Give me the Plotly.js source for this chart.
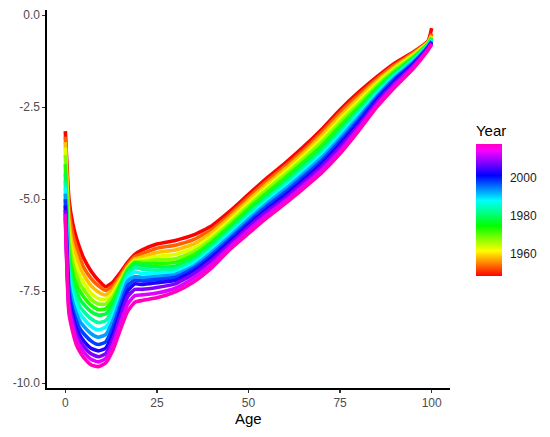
<!DOCTYPE html>
<html><head><meta charset="utf-8">
<script src="https://cdn.plot.ly/plotly-3.0.1.min.js"></script>
<style>html,body{margin:0;padding:0;background:#fff}#chart{width:550px;height:437px}</style>
</head><body><div id="chart"></div>
<script>
const years = [1948,1953,1958,1963,1968,1973,1978,1983,1988,1993,1998,2003,2008,2013,2018];
const ages = [0,1,2,3,4,5,7,9,11,13,15,17,19,21,25,30,35,40,45,50,55,60,65,70,75,80,85,90,95,99,100];

const logm1948 = [-3.15,-5.0,-5.65,-6.05,-6.35,-6.6,-6.95,-7.2,-7.38,-7.25,-7.0,-6.72,-6.5,-6.38,-6.22,-6.12,-5.97,-5.72,-5.32,-4.87,-4.43,-4.02,-3.58,-3.1,-2.57,-2.1,-1.68,-1.3,-1.0,-0.7,-0.35];
const logm1953 = [-3.3,-5.3,-5.95,-6.3,-6.6,-6.85,-7.15,-7.35,-7.48,-7.35,-7.08,-6.78,-6.56,-6.48,-6.33,-6.25,-6.1,-5.82,-5.41,-4.95,-4.51,-4.1,-3.67,-3.18,-2.65,-2.18,-1.74,-1.35,-1.03,-0.72,-0.5];
const logm1958 = [-3.45,-5.6,-6.25,-6.55,-6.85,-7.05,-7.35,-7.52,-7.6,-7.45,-7.15,-6.84,-6.62,-6.57,-6.45,-6.38,-6.22,-5.91,-5.49,-5.03,-4.59,-4.18,-3.75,-3.27,-2.74,-2.26,-1.8,-1.4,-1.06,-0.74,-0.55];
const logm1963 = [-3.6,-5.9,-6.5,-6.8,-7.1,-7.25,-7.55,-7.7,-7.72,-7.55,-7.22,-6.88,-6.67,-6.64,-6.55,-6.5,-6.33,-6.0,-5.57,-5.11,-4.67,-4.26,-3.83,-3.36,-2.83,-2.34,-1.86,-1.44,-1.09,-0.75,-0.58];
const logm1968 = [-3.8,-6.15,-6.75,-7.05,-7.3,-7.45,-7.72,-7.85,-7.85,-7.65,-7.28,-6.9,-6.7,-6.7,-6.65,-6.62,-6.43,-6.08,-5.65,-5.19,-4.75,-4.34,-3.91,-3.45,-2.92,-2.42,-1.92,-1.48,-1.12,-0.77,-0.6];
const logm1973 = [-4.05,-6.4,-7.0,-7.3,-7.5,-7.65,-7.88,-8.0,-7.98,-7.75,-7.33,-6.92,-6.72,-6.75,-6.75,-6.72,-6.52,-6.16,-5.72,-5.26,-4.83,-4.42,-3.99,-3.54,-3.01,-2.5,-1.98,-1.53,-1.15,-0.78,-0.62];
const logm1978 = [-4.3,-6.65,-7.2,-7.5,-7.72,-7.85,-8.05,-8.15,-8.12,-7.87,-7.4,-6.96,-6.77,-6.8,-6.84,-6.82,-6.6,-6.23,-5.79,-5.34,-4.91,-4.5,-4.07,-3.63,-3.1,-2.57,-2.04,-1.57,-1.18,-0.8,-0.64];
const logm1983 = [-4.5,-6.9,-7.4,-7.7,-7.92,-8.05,-8.25,-8.35,-8.3,-8.0,-7.5,-7.03,-6.86,-6.9,-6.93,-6.9,-6.68,-6.3,-5.86,-5.41,-4.98,-4.58,-4.15,-3.71,-3.18,-2.64,-2.1,-1.61,-1.21,-0.82,-0.66];
const logm1988 = [-4.68,-7.1,-7.6,-7.9,-8.12,-8.25,-8.45,-8.55,-8.48,-8.15,-7.62,-7.12,-6.98,-7.02,-7.02,-6.98,-6.75,-6.37,-5.93,-5.48,-5.05,-4.65,-4.23,-3.79,-3.26,-2.71,-2.15,-1.65,-1.24,-0.83,-0.68];
const logm1993 = [-4.85,-7.3,-7.8,-8.1,-8.32,-8.45,-8.65,-8.75,-8.68,-8.3,-7.75,-7.22,-7.1,-7.13,-7.1,-7.05,-6.82,-6.44,-6.0,-5.55,-5.12,-4.73,-4.31,-3.87,-3.34,-2.78,-2.2,-1.69,-1.27,-0.85,-0.7];
const logm1998 = [-5.0,-7.5,-8.0,-8.3,-8.52,-8.65,-8.85,-8.95,-8.88,-8.48,-7.9,-7.35,-7.2,-7.22,-7.18,-7.12,-6.88,-6.51,-6.07,-5.62,-5.19,-4.81,-4.39,-3.95,-3.42,-2.85,-2.25,-1.73,-1.3,-0.87,-0.72];
const logm2003 = [-5.17,-7.7,-8.15,-8.5,-8.7,-8.85,-9.05,-9.12,-9.05,-8.65,-8.05,-7.5,-7.3,-7.32,-7.27,-7.2,-6.95,-6.58,-6.14,-5.69,-5.27,-4.89,-4.47,-4.03,-3.5,-2.93,-2.31,-1.78,-1.33,-0.88,-0.74];
const logm2008 = [-5.3,-7.85,-8.3,-8.65,-8.85,-9.0,-9.2,-9.28,-9.2,-8.8,-8.2,-7.65,-7.45,-7.45,-7.4,-7.3,-7.03,-6.66,-6.21,-5.76,-5.34,-4.97,-4.55,-4.11,-3.59,-3.0,-2.37,-1.83,-1.37,-0.9,-0.76];
const logm2013 = [-5.4,-8.0,-8.45,-8.8,-9.0,-9.15,-9.35,-9.42,-9.33,-8.95,-8.38,-7.85,-7.62,-7.6,-7.55,-7.42,-7.14,-6.76,-6.29,-5.84,-5.43,-5.05,-4.63,-4.2,-3.68,-3.08,-2.44,-1.89,-1.41,-0.93,-0.78];
const logm2018 = [-5.5,-8.1,-8.6,-8.95,-9.15,-9.3,-9.5,-9.55,-9.45,-9.1,-8.55,-8.05,-7.8,-7.75,-7.68,-7.52,-7.25,-6.86,-6.36,-5.93,-5.51,-5.12,-4.71,-4.28,-3.76,-3.15,-2.5,-1.95,-1.45,-0.95,-0.8];

const seriesByYear = [logm1948,logm1953,logm1958,logm1963,logm1968,logm1973,logm1978,logm1983,logm1988,logm1993,logm1998,logm2003,logm2008,logm2013,logm2018];

const xTickVals = [0,25,50,75,100];
const xTickText = ['0','25','50','75','100'];
const yTickVals = [-10,-7.5,-5,-2.5,0];
const yTickText = ['-10.0','-7.5','-5.0','-2.5','0.0'];
const barTickVals = [1960,1980,2000];
const barTickText = ['1960','1980','2000'];
const yearMin = 1948, yearMax = 2018;
const HUE_END = 315;

function rainbowT(t){
  const h = HUE_END * t;
  const sec = Math.floor(h / 60);
  const f = h / 60 - sec;
  let r, g, b;
  switch (Math.min(sec, 5)) {
    case 0: r = 1; g = f; b = 0; break;
    case 1: r = 1 - f; g = 1; b = 0; break;
    case 2: r = 0; g = 1; b = f; break;
    case 3: r = 0; g = 1 - f; b = 1; break;
    case 4: r = f; g = 0; b = 1; break;
    default: r = 1; g = 0; b = 1 - f;
  }
  return 'rgb(' + Math.round(r*255) + ',' + Math.round(g*255) + ',' + Math.round(b*255) + ')';
}
function rainbow(year){ return rainbowT((year - yearMin) / (yearMax - yearMin)); }

const colorscale = [];
for (let k = 0; k <= 21; k++) colorscale.push([k/21, rainbowT(k/21)]);
const FONT = 'Liberation Sans, Arial, sans-serif';

const traces = years.map((yr, i) => ({
  type: 'scatter', mode: 'lines',
  x: ages, y: seriesByYear[i],
  line: {color: rainbow(yr), width: 3.6, shape: 'spline', smoothing: 0.5},
  hoverinfo: 'skip', showlegend: false
}));

traces.push({
  type: 'scatter', mode: 'markers',
  x: [50, 50], y: [-5, -5],
  marker: {
    size: 1, opacity: 0,
    color: [yearMin, yearMax], cmin: yearMin, cmax: yearMax,
    colorscale: colorscale, showscale: true,
    colorbar: {
      x: 1.0645, xanchor: 'left', xpad: 0,
      y: 0.5, yanchor: 'middle', ypad: 0,
      len: 154, lenmode: 'pixels',
      thickness: 26, thicknessmode: 'pixels',
      outlinewidth: 0,
      tickvals: barTickVals, ticktext: barTickText,
      ticks: 'outside', ticklen: 6, tickcolor: 'rgba(0,0,0,0)', tickwidth: 1,
      tickfont: {family: FONT, size: 12, color: '#1a1a1a'},
      title: {text: 'Year', side: 'top', font: {family: FONT, size: 15, color: '#000'}}
    }
  },
  hoverinfo: 'skip', showlegend: false
});

const axisCommon = {
  showgrid: false, zeroline: false,
  showline: true, linecolor: '#000', linewidth: 1.6,
  ticks: 'outside', ticklen: 3, tickwidth: 1.2, tickcolor: '#333',
  tickfont: {family: FONT, size: 12, color: '#4d4d4d'}
};

const layout = {
  width: 550, height: 437,
  margin: {l: 47, r: 100, t: 10, b: 49},
  paper_bgcolor: '#fff', plot_bgcolor: '#fff',
  showlegend: false,
  xaxis: Object.assign({}, axisCommon, {
    range: [-5, 105], tickvals: xTickVals, ticktext: xTickText
  }),
  yaxis: Object.assign({}, axisCommon, {
    range: [-10.13, 0.14], tickvals: yTickVals, ticktext: yTickText
  }),
  annotations: [{
    text: 'Age', xref: 'paper', yref: 'paper', x: 0.5, y: -0.08,
    xanchor: 'center', yanchor: 'middle', showarrow: false,
    font: {family: FONT, size: 15, color: '#000'}
  }]
};

Plotly.newPlot('chart', traces, layout, {displayModeBar: false, staticPlot: true});
</script>
</body></html>
